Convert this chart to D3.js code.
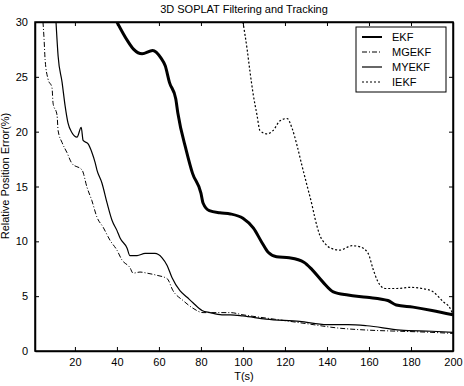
<!DOCTYPE html>
<html>
<head>
<meta charset="utf-8">
<script src="https://cdn.jsdelivr.net/npm/d3@7"></script>
<style>
  body { margin: 0; background: #fff; }
  svg { display: block; font-family: "Liberation Sans", Arial, sans-serif; }
</style>
</head>
<body>
<svg></svg>
<script>
let width = 464;
let height = 386;
let margin = { left: 35, right: 11, top: 22, bottom: 35 };

let seriesNames = ["EKF", "MGEKF", "MYEKF", "IEKF"];
let xTicks = [20, 40, 60, 80, 100, 120, 140, 160, 180, 200];
let yTicks = [0, 5, 10, 15, 20, 25, 30];

let ekfT = [40, 45, 48, 52, 57, 61, 63, 65, 68, 69, 73, 76, 80, 81, 84, 89, 94, 100, 105, 109, 112, 116, 122, 129, 133, 138, 143, 150, 159, 169, 173, 181, 190, 200];
let ekfV = [30, 28.3, 27.5, 27.1, 27.4, 26.7, 26, 24.5, 23, 21.7, 18.3, 16.2, 14.4, 13.5, 12.8, 12.6, 12.5, 12.1, 11.2, 9.9, 9, 8.6, 8.5, 8.1, 7.4, 6.3, 5.4, 5.1, 4.9, 4.6, 4.2, 4, 3.7, 3.3];

let mgekfT = [4.8, 5.3, 5.8, 7.2, 9.1, 9.6, 11.5, 12, 13.9, 16.2, 18.6, 23.4, 25.8, 28.1, 30.5, 33.4, 36.7, 40, 42.4, 46.2, 47.7, 51, 54.3, 59.1, 63.9, 66.7, 71.5, 76.2, 81, 87.7, 94, 100, 115, 130, 145, 160, 175, 190, 200];
let mgekfV = [30, 28.5, 26.6, 24.8, 24, 22.6, 21.5, 20.1, 19, 18.1, 17.1, 16.5, 14.9, 13.7, 12.2, 11.3, 10.1, 9.2, 8.3, 7.6, 7.1, 7.2, 7.1, 6.9, 6.6, 5.5, 4.6, 3.9, 3.5, 3.5, 3.5, 3.3, 2.9, 2.5, 2.1, 1.9, 1.8, 1.7, 1.6];

let myekfT = [11, 12, 13.9, 15.3, 16.7, 18.6, 21, 23, 23.9, 26.2, 28.1, 29.6, 30.5, 32.9, 35.3, 37.7, 40, 41.5, 44.8, 46.2, 49.6, 53.4, 58.1, 61.5, 63.9, 66.2, 70, 73.4, 76.2, 80.5, 84.3, 90, 94, 100, 111, 127, 140, 150, 159, 175, 190, 200];
let myekfV = [30, 26.9, 24.5, 22.4, 20.8, 19.9, 19.5, 20.4, 19.2, 18.9, 18.1, 17.2, 16.5, 15.3, 13.5, 11.9, 11, 10.3, 9.4, 8.7, 8.7, 8.9, 8.9, 8.5, 7.8, 6.7, 5.5, 4.9, 4.4, 3.7, 3.5, 3.3, 3.3, 3.2, 2.9, 2.7, 2.4, 2.4, 2.3, 1.9, 1.8, 1.7];

let iekfT = [100, 102, 103.4, 104.8, 106.7, 108.1, 111.5, 114.3, 117.7, 121, 123.4, 125.8, 128.1, 130.5, 132.9, 134.3, 136.7, 139.1, 141.5, 146.2, 151.9, 155.8, 159.6, 161.9, 164.3, 167.7, 173.4, 179.6, 185.3, 190.5, 195.3, 198.6, 200];
let iekfV = [30, 27.5, 25.4, 23.5, 21.5, 20.1, 19.8, 20.1, 21, 21.2, 20.3, 18.7, 16.9, 15.1, 13.3, 12.1, 10.5, 9.8, 9.4, 9.2, 9.6, 9.5, 8.9, 7.5, 6.3, 5.7, 5.7, 5.8, 5.7, 5.4, 4.5, 3.9, 3.3];

let series = [
  { name: "EKF", t: ekfT, v: ekfV, width: 3, dash: null },
  { name: "MGEKF", t: mgekfT, v: mgekfV, width: 1, dash: "5,2,1,2" },
  { name: "MYEKF", t: myekfT, v: myekfV, width: 1.2, dash: null },
  { name: "IEKF", t: iekfT, v: iekfV, width: 1.2, dash: "2,2" }
];

let svg = d3.select("svg").attr("width", width).attr("height", height);

let xScale = d3.scaleLinear().domain([1, 200]).range([margin.left, width - margin.right]);
let yScale = d3.scaleLinear().domain([0, 30]).range([height - margin.bottom, margin.top]);

// clip lines to the axes box
svg.append("clipPath").attr("id", "clip")
  .append("rect")
  .attr("x", margin.left).attr("y", margin.top)
  .attr("width", width - margin.left - margin.right)
  .attr("height", height - margin.top - margin.bottom);

let line = d3.line()
  .x((d) => xScale(d[0]))
  .y((d) => yScale(d[1]))
  .curve(d3.curveMonotoneX);

svg.append("g").attr("clip-path", "url(#clip)")
  .selectAll("path")
  .data(series)
  .enter()
  .append("path")
  .attr("d", (s) => line(s.t.map((t, i) => [t, s.v[i]])))
  .attr("fill", "none")
  .attr("stroke", "#000")
  .attr("stroke-width", (s) => s.width)
  .attr("stroke-dasharray", (s) => s.dash);

// axes, ticks inward on all four sides
let xAxis = d3.axisBottom(xScale).tickValues(xTicks).tickSizeInner(-4).tickSizeOuter(0).tickPadding(7);
let yAxis = d3.axisLeft(yScale).tickValues(yTicks).tickSizeInner(-4).tickSizeOuter(0).tickPadding(7);
let xTop = d3.axisTop(xScale).tickValues(xTicks).tickSizeInner(-4).tickSizeOuter(0).tickFormat("");
let yRight = d3.axisRight(yScale).tickValues(yTicks).tickSizeInner(-4).tickSizeOuter(0).tickFormat("");

svg.append("g").attr("transform", "translate(0," + (height - margin.bottom) + ")").call(xAxis);
svg.append("g").attr("transform", "translate(" + margin.left + ",0)").call(yAxis);
svg.append("g").attr("transform", "translate(0," + margin.top + ")").call(xTop);
svg.append("g").attr("transform", "translate(" + (width - margin.right) + ",0)").call(yRight);

svg.selectAll(".tick text").attr("font-size", 11).attr("fill", "#000");
svg.selectAll(".domain").attr("stroke", "#000").attr("stroke-width", 1.5);

svg.append("rect")
  .attr("x", margin.left).attr("y", margin.top)
  .attr("width", width - margin.left - margin.right)
  .attr("height", height - margin.top - margin.bottom)
  .attr("fill", "none").attr("stroke", "#000").attr("stroke-width", 1.5);

// titles
svg.append("text").attr("x", 244).attr("y", 13).attr("text-anchor", "middle")
  .attr("font-size", 11).text("3D SOPLAT Filtering and Tracking");
svg.append("text").attr("x", 244).attr("y", 380).attr("text-anchor", "middle")
  .attr("font-size", 11).text("T(s)");
svg.append("text").attr("transform", "translate(9,176) rotate(-90)").attr("text-anchor", "middle")
  .attr("font-size", 11).text("Relative Position Error(%)");

// legend
let legend = svg.append("g").attr("transform", "translate(356,27)");
legend.append("rect").attr("width", 90).attr("height", 65)
  .attr("fill", "#fff").attr("stroke", "#000").attr("stroke-width", 1);
let items = legend.selectAll("g.item").data(series).enter().append("g")
  .attr("transform", (s, i) => "translate(0," + (10 + i * 15) + ")");
items.append("line").attr("x1", 6).attr("x2", 26).attr("y1", 0).attr("y2", 0)
  .attr("stroke", "#000")
  .attr("stroke-width", (s) => Math.min(s.width, 2))
  .attr("stroke-dasharray", (s) => s.dash);
items.append("text").attr("x", 36).attr("y", 4).attr("font-size", 11).text((s) => s.name);
</script>
</body>
</html>
